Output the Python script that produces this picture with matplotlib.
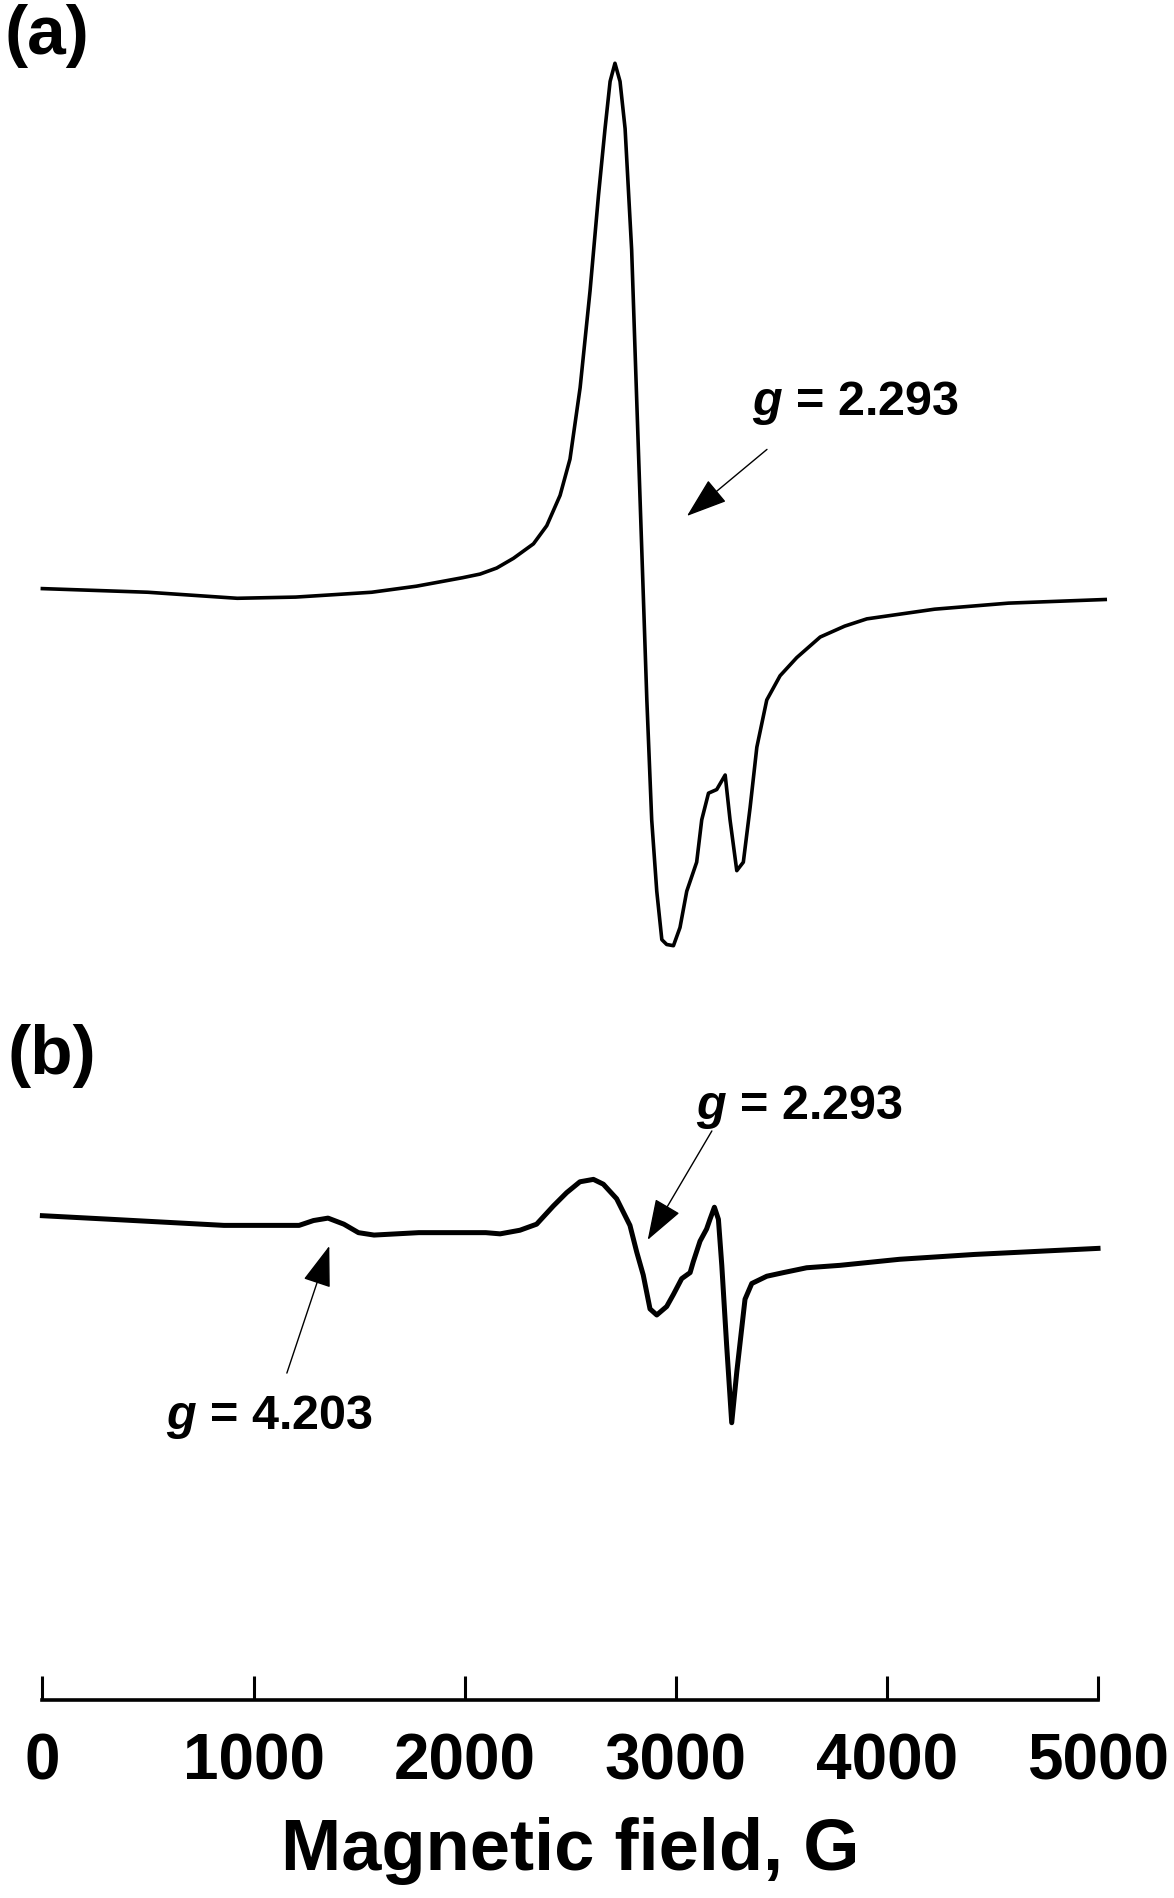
import matplotlib
matplotlib.use("Agg")
import matplotlib.pyplot as plt

plt.rcParams['font.family'] = ['Liberation Sans', 'DejaVu Sans']
plt.rcParams['mathtext.fontset'] = 'custom'
plt.rcParams['mathtext.it'] = 'Liberation Sans:italic:bold'
plt.rcParams['mathtext.rm'] = 'Liberation Sans:bold'

# spectrum (a): magnetic field (G) vs derivative signal (arb. units)
field_a = [0, 499, 923, 1200, 1382, 1560, 1772, 1990, 2073, 2152, 2231, 2326,
           2389, 2452, 2499, 2547, 2594, 2634, 2665, 2689, 2712, 2736, 2760,
           2791, 2815, 2839, 2863, 2886, 2910, 2934, 2957, 2989, 3020, 3052,
           3099, 3123, 3155, 3194, 3234, 3257, 3289, 3320, 3352, 3384, 3431,
           3494, 3573, 3684, 3800, 3905, 4226, 4576, 5034]
signal_a = [1, -2, -7, -6, -4, -2, 3, 10, 13, 18, 26, 38,
            53, 78, 108, 167, 247, 326, 381, 420, 435, 420, 381,
            281, 157, 33, -91, -190, -249, -289, -293, -294, -279, -249,
            -225, -190, -168, -165, -153, -190, -232, -225, -180, -130, -91,
            -71, -56, -39, -30, -24, -16, -11, -8]

# spectrum (b)
field_b = [0, 327, 860, 1216, 1284, 1353, 1428, 1497, 1571, 1783, 2100, 2168,
           2262, 2341, 2420, 2483, 2546, 2610, 2657, 2720, 2783, 2815, 2846,
           2878, 2910, 2957, 2989, 3028, 3068, 3083, 3115, 3146, 3162, 3183,
           3202, 3218, 3241, 3265, 3289, 3328, 3360, 3431, 3510, 3620, 3778,
           4060, 4415, 5000]
signal_b = [0, -3, -8, -8, -4, -2, -7, -14, -16, -14, -14, -15,
            -12, -7, 8, 19, 28, 30, 26, 14, -8, -30, -49,
            -77, -82, -75, -65, -52, -47, -38, -21, -11, -3, 7,
            -3, -41, -107, -171, -129, -69, -56, -50, -47, -43, -41,
            -36, -32, -27]

x_ticks = [0, 1000, 2000, 3000, 4000, 5000]

fig = plt.figure(figsize=(11.74, 18.99), dpi=100)
ax_a = fig.add_axes([0.03609, 0.4849, 0.8992, 0.4972])
ax_b = fig.add_axes([0.03609, 0.10427, 0.8992, 0.33791])

ax_a.plot(field_a, signal_a, color='black', linewidth=2.6, clip_on=False,
          solid_joinstyle='round')
ax_b.plot(field_b, signal_b, color='black', linewidth=3.6, clip_on=False,
          solid_joinstyle='round')

ax_a.set_xlim(0, 5000)
ax_a.set_ylim(-320, 460)
ax_b.set_xlim(0, 5000)
ax_b.set_ylim(-400, 130)

for ax in (ax_a, ax_b):
    for side in ['top', 'right', 'left', 'bottom']:
        ax.spines[side].set_visible(False)
    ax.set_yticks([])
ax_a.set_xticks([])

ax_b.spines['bottom'].set_visible(True)
ax_b.spines['bottom'].set_linewidth(2.6)
ax_b.spines['bottom'].set_bounds(0, 5000)
ax_b.set_xticks(x_ticks)
ax_b.tick_params(axis='x', direction='in', length=17, width=2.2, pad=23,
                 labelsize=46)
for lab in ax_b.get_xticklabels():
    lab.set_fontweight('bold')
ax_b.set_xlabel('Magnetic field, G', fontsize=52, fontweight='bold', labelpad=17)

arrow = dict(arrowstyle='-|>,head_length=1.3,head_width=0.45', color='black',
             lw=1.0, mutation_scale=20, shrinkA=0, shrinkB=0)

# annotations
ax_a.text(3361, 145, r'$g$ = 2.293', fontsize=35, fontweight='bold',
          ha='left', va='baseline')
ax_a.annotate('', xy=(3053, 61), xytext=(3432, 116), arrowprops=arrow)

ax_b.text(3096, 81, r'$g$ = 2.293', fontsize=35, fontweight='bold',
          ha='left', va='baseline')
ax_b.annotate('', xy=(2867, -20), xytext=(3171, 70), arrowprops=arrow)

ax_b.text(585, -175, r'$g$ = 4.203', fontsize=35, fontweight='bold',
          ha='left', va='baseline')
ax_b.annotate('', xy=(1359, -25), xytext=(1158, -130), arrowprops=arrow)

fig.text(0.004, 1 - 4 / 1899, '(a)', fontsize=50, fontweight='bold',
         ha='left', va='top')
fig.text(0.006, 1 - 1024 / 1899, '(b)', fontsize=50, fontweight='bold',
         ha='left', va='top')

fig.savefig('out.png', dpi=100)
